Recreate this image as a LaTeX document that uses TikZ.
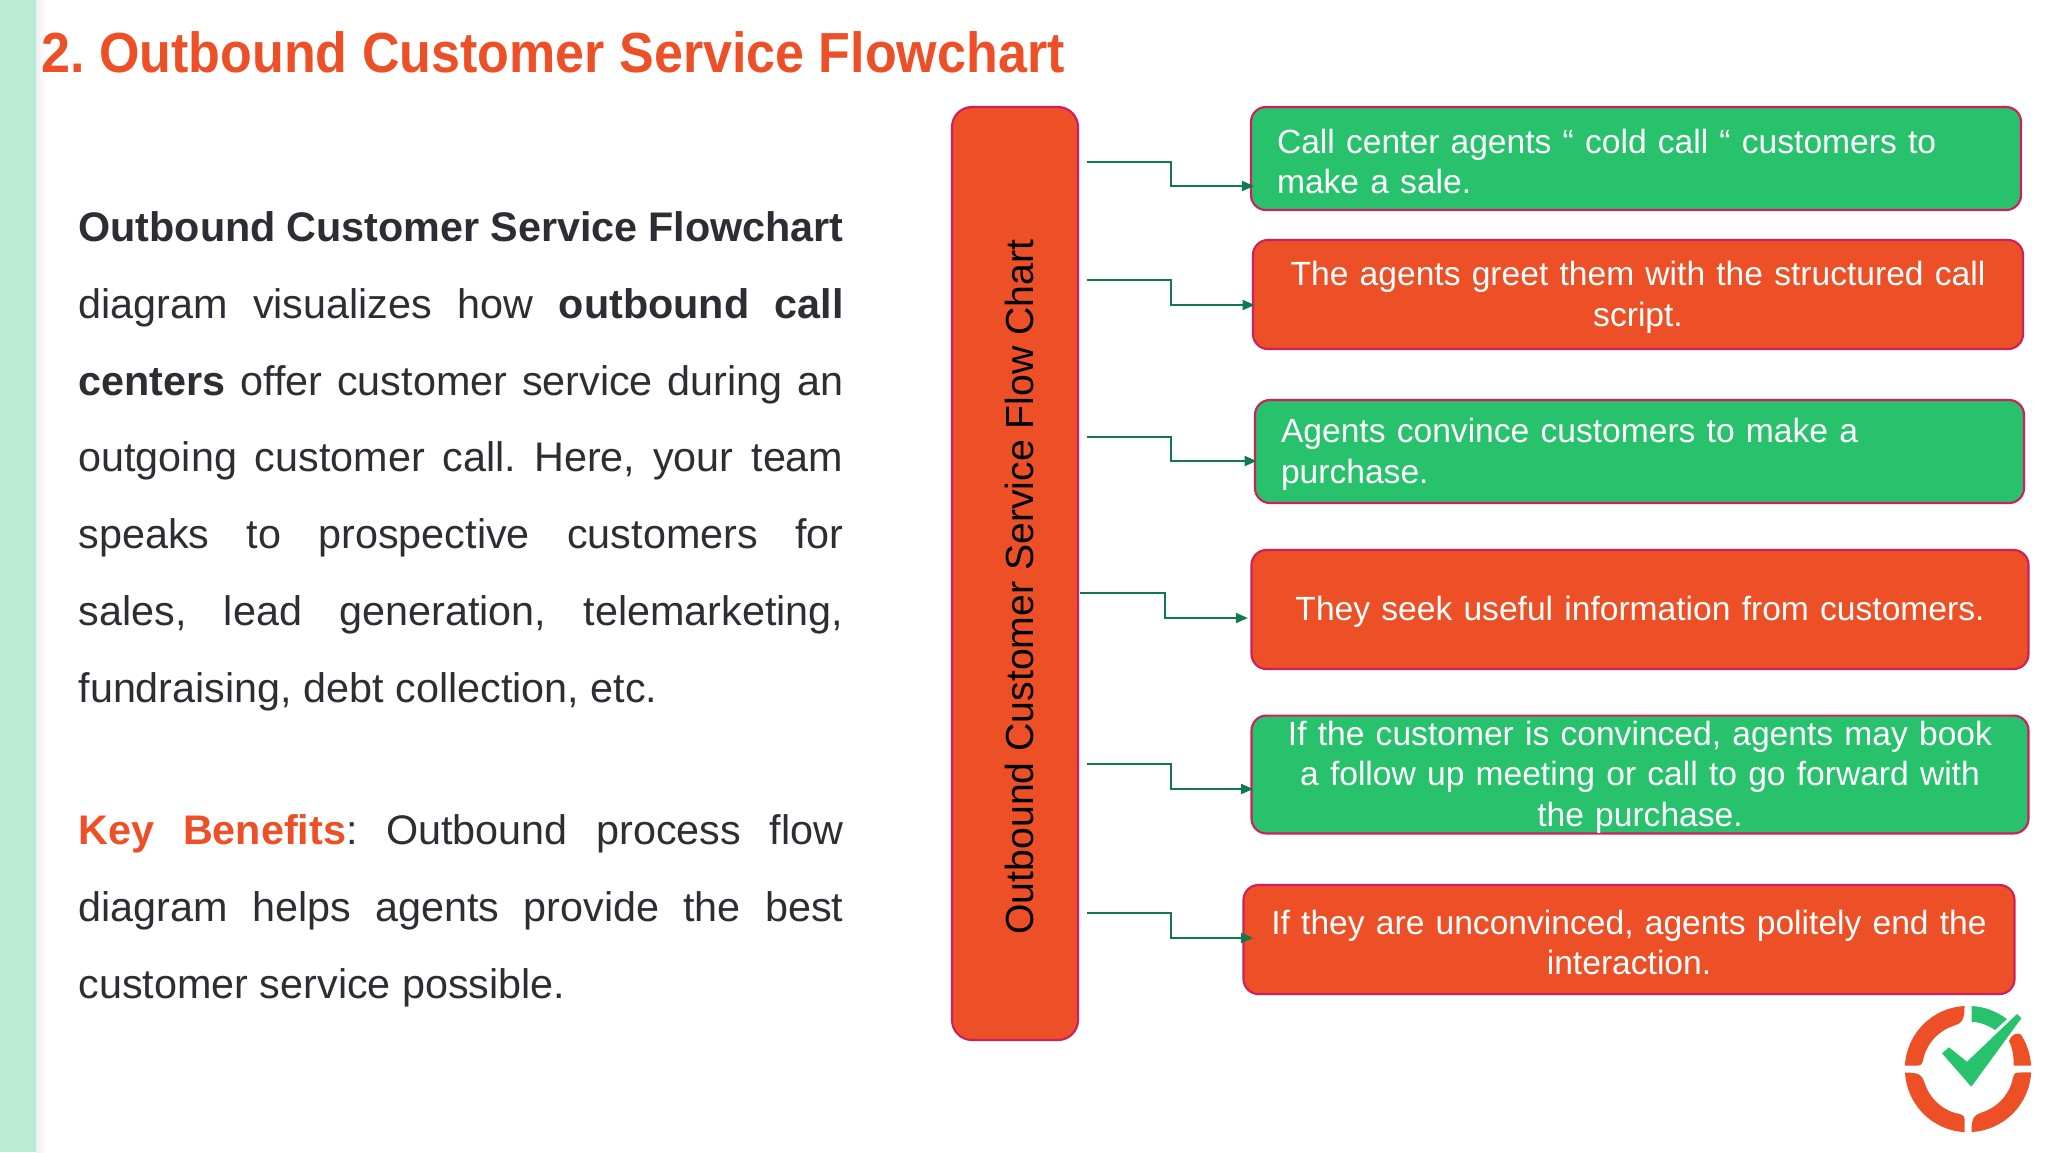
\documentclass[tikz,border=0pt]{standalone}
\usepackage{fontspec}
\setmainfont{Liberation Sans}
\newfontfamily\titlefont[FakeStretch=0.92]{Liberation Sans}
\usetikzlibrary{arrows.meta}
\frenchspacing

\definecolor{barmint}{HTML}{B9EBD5}
\definecolor{boxorange}{HTML}{ED5026}
\definecolor{boxgreen}{HTML}{28C26D}
\definecolor{boxedge}{HTML}{CF1F5C}
\definecolor{linkgreen}{HTML}{0F7A4C}
\definecolor{bodygray}{HTML}{2D2D33}

\tikzset{
	box/.style 2 args={draw=boxedge, line width=0.8pt, rounded corners=5.6pt, text=white, inner sep=0pt,
		minimum width=#1*0.375pt, minimum height=#2*0.375pt, text width=(#1-52)*0.375pt,
		font=\fontsize{12.6}{15.2}\selectfont, execute at begin node={\rule{0pt}{11.2pt}}},
	link/.style={draw=linkgreen, line width=0.6pt, -{Triangle[length=4.5pt,width=3.8pt]}},
	para/.style={anchor=north west, inner sep=0pt, text width=765*0.375pt, align=justify, text=bodygray,
		font=\fontsize{15.5}{28.8}\selectfont},
}

\begin{document}
\begin{tikzpicture}[x=0.375pt, y=-0.375pt]
	\useasboundingbox (0,0) rectangle (2048,1152);
	\fill[white] (0,0) rectangle (2048,1152);

	% Left bar
	\shade[left color=black!6, right color=white] (36,0) rectangle (46,1152);
	\fill[barmint] (0,0) rectangle (36,1152);

	% Title
	\node[anchor=base west, inner sep=0pt, text=boxorange, font=\fontsize{21.2}{24}\selectfont\titlefont\bfseries] (title) at (41,72)
		{2. Outbound Customer Service Flowchart};

	% Text on the left
	\node[para] (intro) at (78,211) {\textbf{Outbound Customer Service Flowchart}\linebreak
		diagram visualizes how \textbf{outbound call}\linebreak
		\textbf{centers} offer customer service during an\linebreak
		outgoing customer call. Here, your team\linebreak
		speaks to prospective customers for\linebreak
		sales, lead generation, telemarketing,\linebreak
		fundraising, debt collection, etc.};
	\node[para] (benefits) at (78,814) {\textbf{\textcolor{boxorange}{Key Benefits}}: Outbound process flow\linebreak
		diagram helps agents provide the best\linebreak
		customer service possible.};

	% Main box
	\node[draw=boxedge, fill=boxorange, line width=0.8pt, rounded corners=7.5pt, minimum width=126*0.375pt, minimum height=933*0.375pt] (flow) at (1015,573.5) {};
	\node[rotate=90, inner sep=0pt, font=\fontsize{14.7}{18}\selectfont] (flowtext) at (1019,587) {Outbound Customer Service Flow Chart};

	% Boxes on the right
	\node[box={770}{103}, fill=boxgreen, align=left] (item1) at (1636,158.5)
		{Call center agents “ cold call “ customers to\\make a sale.};
	\node[box={770}{109}, fill=boxorange, align=center] (item2) at (1638,294.5)
		{The agents greet them with the structured call\\script.};
	\node[box={769}{103}, fill=boxgreen, align=left] (item3) at (1639.5,451.5)
		{Agents convince customers to make a\\purchase.};
	\node[box={777}{119}, fill=boxorange, align=center] (item4) at (1640,609.5)
		{They seek useful information from customers.};
	\node[box={777}{117}, fill=boxgreen, align=center] (item5) at (1640,774.5)
		{If the customer is convinced, agents may book\\a follow up meeting or call to go forward with\\the purchase.};
	\node[box={771}{109}, fill=boxorange, align=center] (item6) at (1629,939.5)
		{If they are unconvinced, agents politely end the\\interaction.};

	% Connector starts
	\coordinate (s1) at (1087,162);
	\coordinate (s2) at (1087,280);
	\coordinate (s3) at (1087,437);
	\coordinate (s4) at (1080,593);
	\coordinate (s5) at (1087,764);
	\coordinate (s6) at (1087,913);

	% Connector heights at the boxes
	\coordinate (e1) at (1200,186);
	\coordinate (e2) at (1200,305);
	\coordinate (e3) at (1200,461);
	\coordinate (e4) at (1200,618);
	\coordinate (e5) at (1200,789);
	\coordinate (e6) at (1200,938);

	% Draw connectors
	\draw[link] (s1) -- ++(84,0) |- ([xshift=1.5pt]item1.west |- e1);
	\draw[link] (s2) -- ++(84,0) |- ([xshift=1pt]item2.west |- e2);
	\draw[link] (s3) -- ++(84,0) |- ([xshift=1pt]item3.west |- e3);
	\draw[link] (s4) -- ++(85,0) |- ([xshift=-1pt]item4.west |- e4);
	\draw[link] (s5) -- ++(84,0) |- ([xshift=1pt]item5.west |- e5);
	\draw[link] (s6) -- ++(84,0) |- ([xshift=4pt]item6.west |- e6);

	% Logo
	\begin{scope}[shift={(1968,1069)}, y=0.375pt]
		\foreach \a in {0,90,180}
			\fill[boxorange, rotate=\a] (-3.5,63) arc[start angle=93, end angle=177, radius=63]
				-- (-50,3.5) .. controls (-46,3.5) and (-45,7) .. (-44,13)
				arc[start angle=163, end angle=107, radius=46]
				.. controls (-7,46) and (-3.5,47) .. cycle;
		\fill[boxorange] (63,3.5) arc[start angle=3, end angle=33, radius=63]
			.. controls (48,37) and (43,34) .. (41,28) .. controls (45,20) and (46,10) .. (45.5,3.5) -- cycle;
		\fill[boxgreen] (3.5,63) arc[start angle=87, end angle=52.4, radius=63.5] -- (27,39)
			arc[start angle=55, end angle=80, radius=47.5] -- (3.5,47) -- cycle;
		\fill[boxgreen] (-26,15.7) -- (-19,21.7) -- (-1,7.3) -- (49,55) -- (53.3,50.7) -- (3.3,-17.7) -- cycle;
	\end{scope}
\end{tikzpicture}
\end{document}
